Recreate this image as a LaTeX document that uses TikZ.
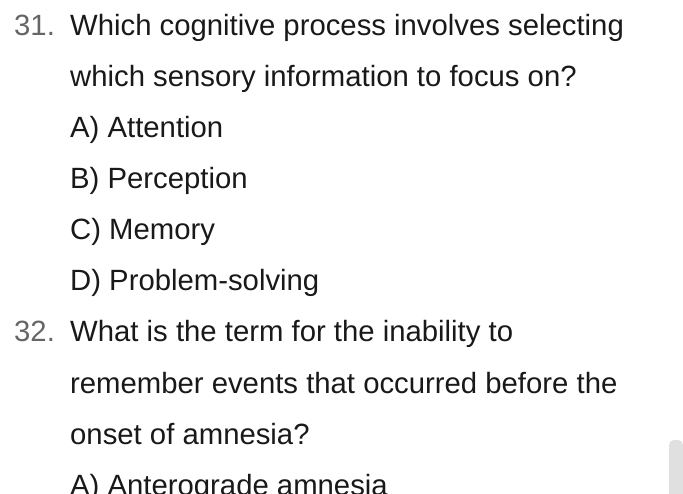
\documentclass[tikz,border=0pt]{standalone}
\usepackage{fontspec}
\setmainfont{Liberation Sans}
\begin{document}
\begin{tikzpicture}[x=1pt,y=-1pt,
  txt/.style={anchor=base west,inner sep=0pt,font=\fontsize{29.3}{33}\selectfont,text=black!90},
  num/.style={txt,text=black!60}]
\useasboundingbox (0,0) rectangle (683,494);
\clip (0,0) rectangle (683,494);
\fill[white] (0,0) rectangle (683,494);
\node[num] (n31) at (14,36) {31.};
\node[txt] (l1) at (70,36) {Which cognitive process involves selecting};
\node[txt] (l2) at (70,87) {which sensory information to focus on?};
\node[txt] (l3) at (70,138) {A) Attention};
\node[txt] (l4) at (70,189) {B) Perception};
\node[txt] (l5) at (70,240) {C) Memory};
\node[txt] (l6) at (70,291) {D) Problem-solving};
\node[num] (n32) at (14,342) {32.};
\node[txt] (l7) at (70,342) {What is the term for the inability to};
\node[txt] (l8) at (70,393) {remember events that occurred before the};
\node[txt] (l9) at (70,444) {onset of amnesia?};
\node[txt] (l10) at (70,495) {A) Anterograde amnesia};
\fill[black!12,rounded corners=5pt] (669,440) rectangle (683,500);
\end{tikzpicture}
\end{document}
